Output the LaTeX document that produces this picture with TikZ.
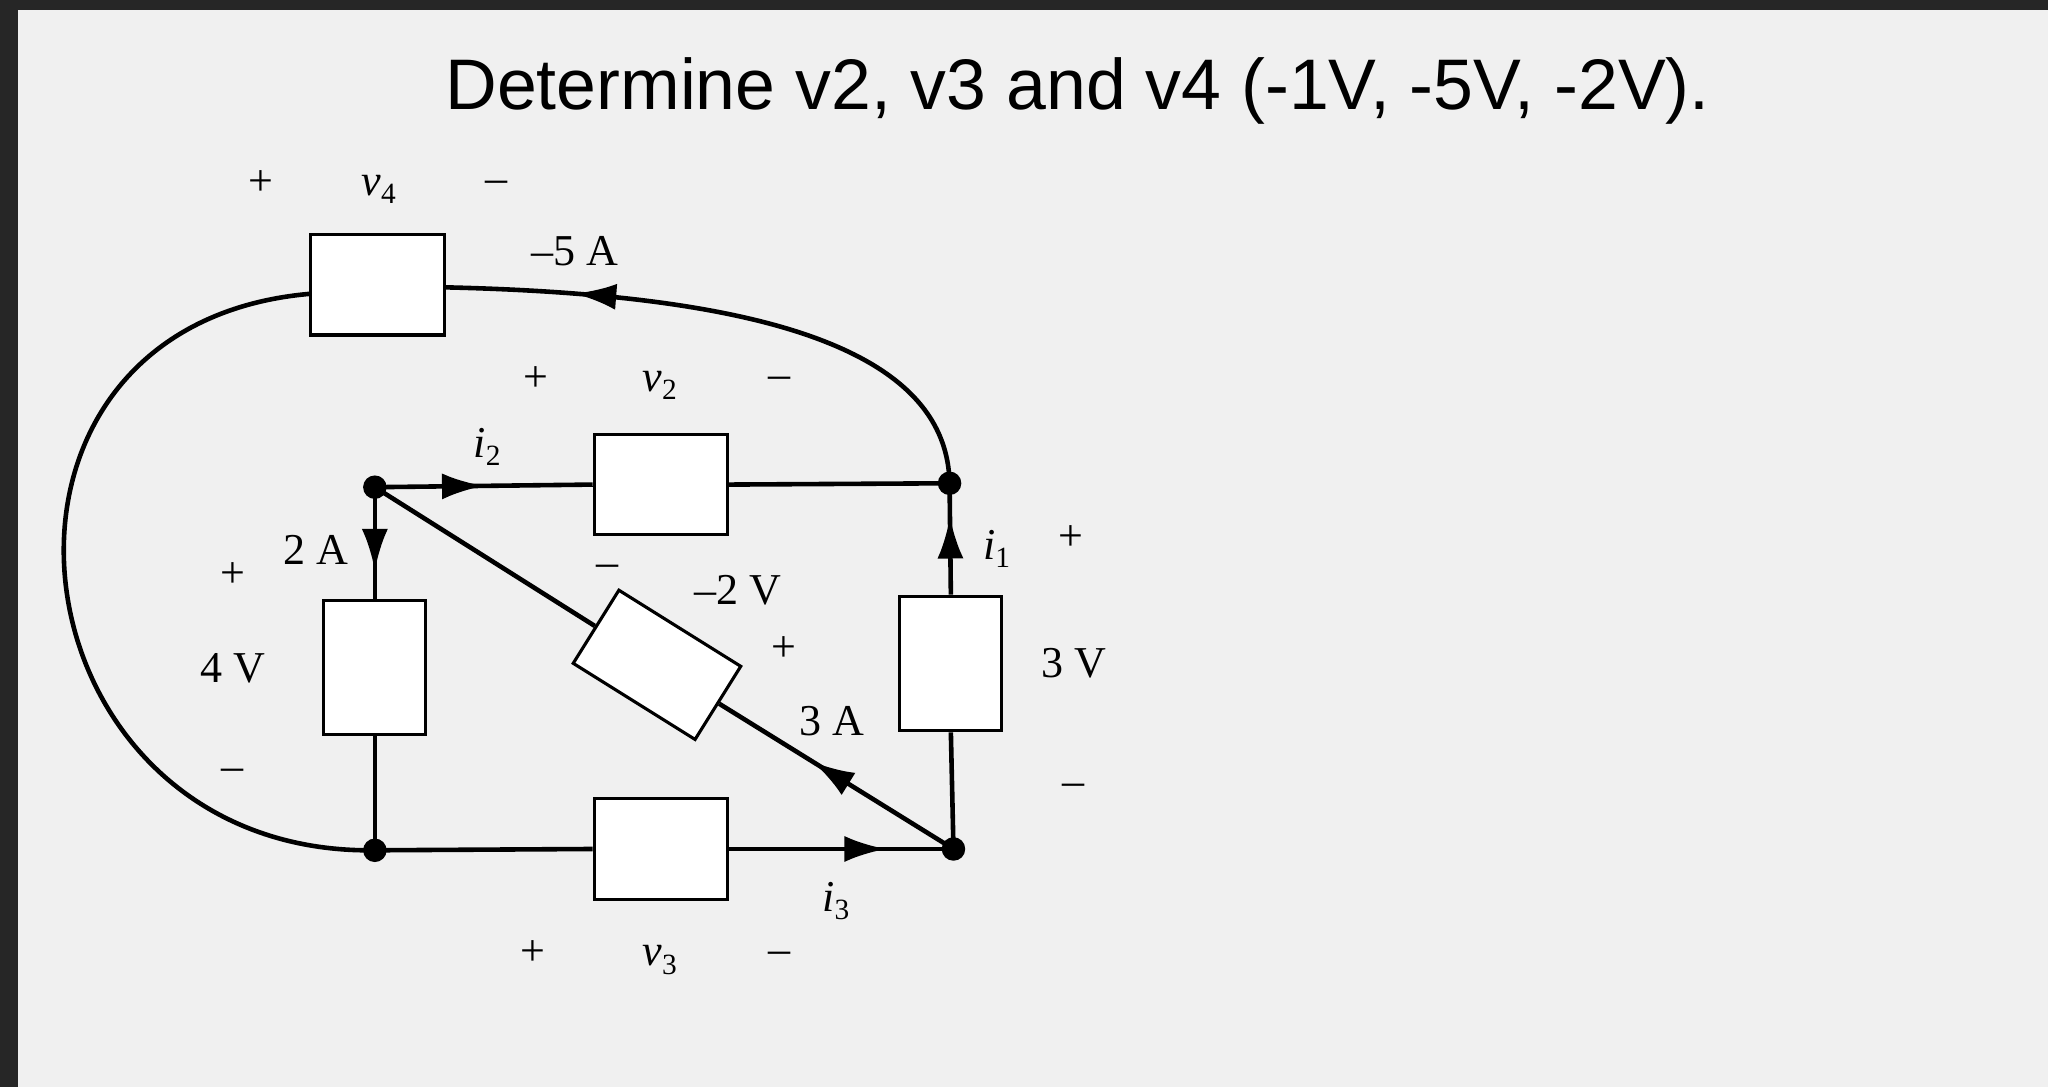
\documentclass[tikz,border=0pt]{standalone}
\usepackage{fontspec}
\setmainfont{Liberation Serif}
\newfontfamily\titlefont{Liberation Sans}
\usetikzlibrary{arrows.meta,decorations.markings}
\newcommand{\varsub}[2]{{\itshape #1}\raisebox{-9pt}{\fontsize{32}{34}\selectfont #2}}
\begin{document}
\begin{tikzpicture}[x=0.5mm,y=-0.5mm,
  wire/.style={line width=5pt},
  comp/.style={draw,line width=3.4pt,fill=white,minimum width=102*0.5mm,minimum height=77*0.5mm,inner sep=0pt},
  vcomp/.style={draw,line width=3.4pt,fill=white,minimum width=78*0.5mm,minimum height=103*0.5mm,inner sep=0pt},
  dot/.style={circle,fill=black,minimum size=9mm,inner sep=0pt},
  lbl/.style={font=\fontsize{48}{50}\selectfont},
  arr/.style={postaction={decorate},decoration={markings,mark=at position #1 with {\arrow{Latex[length=16mm,width=10mm]}}}},
  rarr/.style={postaction={decorate},decoration={markings,mark=at position #1 with {\arrowreversed{Latex[length=16mm,width=10mm]}}}}]
\useasboundingbox (0,0) rectangle (1568,832);
\fill[gray!12] (0,0) rectangle (1568,832);
\fill[black!85] (0,0) rectangle (1568,8);
\fill[black!85] (0,0) rectangle (14,832);
\node[font=\titlefont\fontsize{78}{80}\selectfont] (title) at (825,70) {Determine v2, v3 and v4 (-1V, -5V, -2V).};
% nodes
\node[dot] (A) at (287,373) {};
\node[dot] (B) at (727,370) {};
\node[dot] (C) at (287,651) {};
\node[dot] (D) at (730,650) {};
\node[comp] (v4b) at (289,218) {};
\node[comp] (v2b) at (506,371) {};
\node[comp] (v3b) at (506,650) {};
\node[vcomp] (lb) at (287,511) {};
\node[vcomp] (rb) at (728,508) {};
\node[comp,minimum width=110*0.5mm,minimum height=66*0.5mm,rotate=-32] (db) at (503,509) {};
% wires
\draw[wire,rarr=0.22] (v4b.east |- 0,220) .. controls (560,225) and (725,260) .. (B.center);
\draw[wire] (v4b.west |- 0,225) .. controls (-45,250) and (5,655) .. (C.center);
\draw[wire,arr=0.5] (A.center) -- (v2b.west);
\draw[wire] (v2b.east) -- (B.center);
\draw[wire,arr=0.75] (A.center) -- (lb.north);
\draw[wire] (lb.south) -- (C.center);
\draw[wire] (C.center) -- (v3b.west);
\draw[wire,arr=0.7] (v3b.east) -- (D.center);
\draw[wire] (D.center) -- (rb.south);
\draw[wire,arr=0.7] (rb.north) -- (B.center);
\draw[wire] (A.center) -- (db.west);
\draw[wire,arr=0.6] (D.center) -- (db.east);
% labels
\begin{scope}[every node/.style={lbl}]
\node (p1) at (200,140) {+};
\node (l1) at (290,145) {\varsub{v}{4}};
\node (m1) at (380,143) {--};
\node (l2) at (440,192) {--5 A};
\node (p2) at (410,290) {+};
\node (l3) at (505,295) {\varsub{v}{2}};
\node (m2) at (597,293) {--};
\node (l4) at (373,342) {\varsub{i}{2}};
\node (p3) at (178,440) {+};
\node (l5) at (242,421) {2 A};
\node (l6) at (178,512) {4 V};
\node (m3) at (178,593) {--};
\node (m4) at (465,437) {--};
\node (l7) at (565,452) {--2 V};
\node (p4) at (600,497) {+};
\node (l8) at (637,552) {3 A};
\node (l9) at (763,420) {\varsub{i}{1}};
\node (p5) at (820,412) {+};
\node (l10) at (822,508) {3 V};
\node (m5) at (822,605) {--};
\node (l11) at (640,690) {\varsub{i}{3}};
\node (p6) at (408,730) {+};
\node (l12) at (505,735) {\varsub{v}{3}};
\node (m6) at (597,733) {--};
\end{scope}
\end{tikzpicture}
\end{document}
